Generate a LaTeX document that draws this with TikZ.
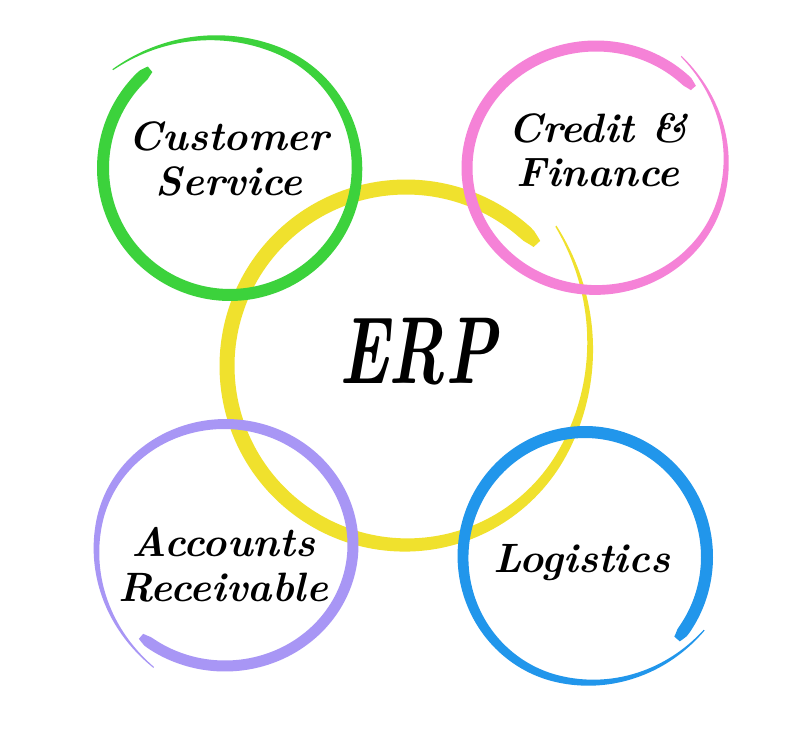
\documentclass[tikz,border=0pt]{standalone}
\usepackage{fontspec}
\usepackage{xcolor}
\usetikzlibrary{positioning}

\definecolor{brushgreen}{HTML}{3CD23C}
\definecolor{brushpink}{HTML}{F582D7}
\definecolor{brushyellow}{HTML}{F0E12D}
\definecolor{brushpurple}{HTML}{A896F5}
\definecolor{brushblue}{HTML}{2196EB}

\tikzset{
  declare function={
    wid(\s,\w,\n)=\w*min(1,0.6+\s/10)*(1-0.9*(max(0,\s-150)/(\n-150))^2);
    grow(\s,\g,\n)=\g*(max(0,\s-\n+72)/72)^2;
  },
  topic/.style={font=\fontsize{35}{38}\selectfont\bfseries\itshape, align=center, inner sep=0pt},
  hub/.style={font=\fontsize{56}{56}\selectfont\bfseries\itshape, inner sep=0pt, anchor=base},
}

\begin{document}
\begin{tikzpicture}[y=-0.03cm,x=0.03cm]
	% brush ring: colour, centre x, centre y, x radius, y radius, start angle, width, tail growth, sweep
	\newcommand\Brush[9]{%
	  \fill[#1, shift={(#2,#3)}]
	    plot[domain=0:#9, samples=200, variable=\t] ({#6-\t}:{#4+grow(\t,#8,#9)+wid(\t,#7,#9)/2} and {#5+grow(\t,#8,#9)+wid(\t,#7,#9)/2})
	    -- plot[domain=#9:0, samples=200, variable=\t] ({#6-\t}:{#4+grow(\t,#8,#9)-wid(\t,#7,#9)/2} and {#5+grow(\t,#8,#9)-wid(\t,#7,#9)/2})
	    -- cycle;}

	\fill[white] (0,0) rectangle (800,734);
	\useasboundingbox (0,0) rectangle (800,734);

	\Brush{brushyellow}{406}{366}{179}{179}{-43}{15}{26}{360}
	\Brush{brushgreen}{230}{168}{127}{127}{231}{12}{26}{371}
	\Brush{brushpink}{596}{168}{129}{122}{-41}{11}{16}{373}
	\Brush{brushpurple}{225}{545}{128}{121}{131}{11}{19}{372}
	\Brush{brushblue}{585}{557}{122}{125}{41}{12}{17}{370}

	\node[hub] (erp) at (418,383) {\scalebox{1}[1.45]{ERP}};
	\node[topic] (service) at (229,159) {Customer\\Service};
	\node[topic] (finance) at (598,150) {Credit \&\\Finance};
	\node[topic] (accounts) at (223,565) {Accounts\\Receivable};
	\node[topic, anchor=base] (logistics) at (582,572) {Logistics};
\end{tikzpicture}
\end{document}
